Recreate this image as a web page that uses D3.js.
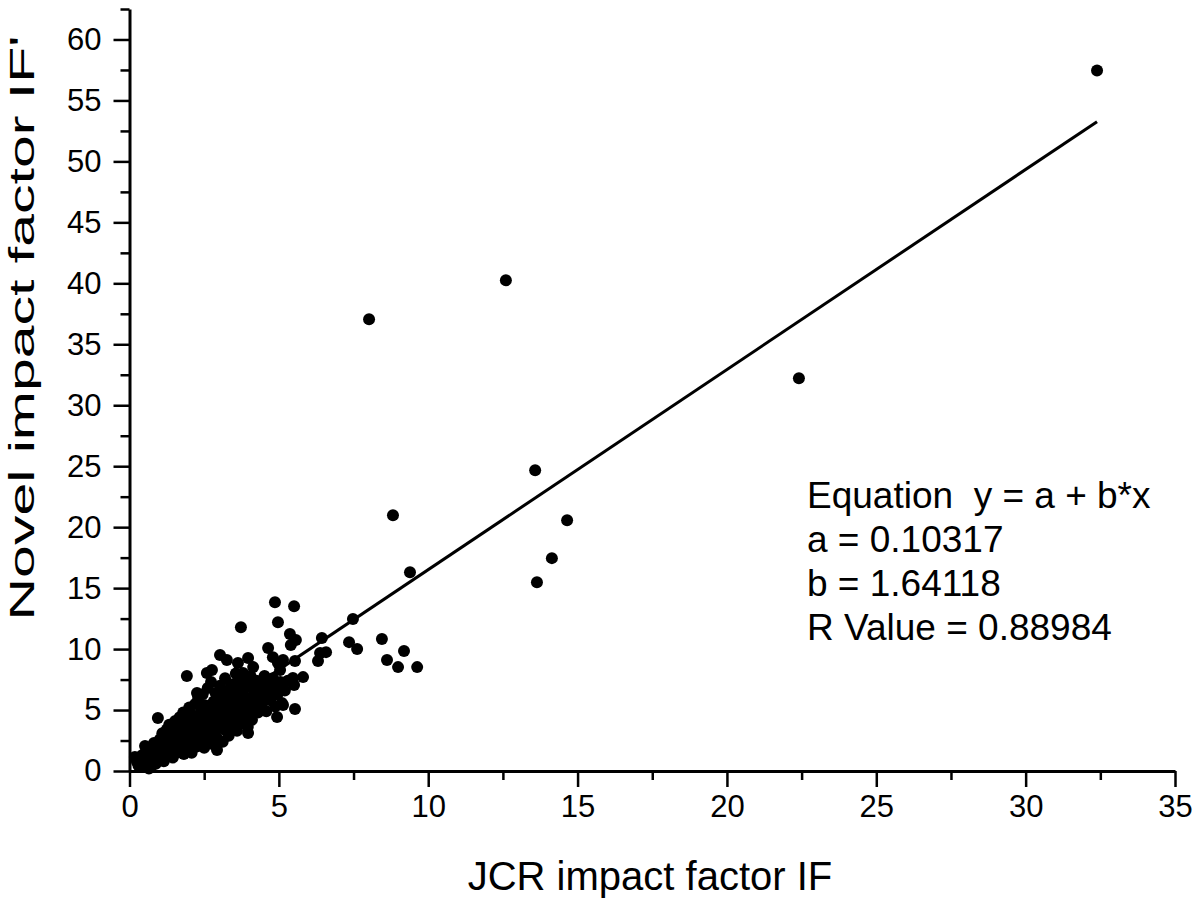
<!DOCTYPE html>
<html lang="en">
  <head>
    <meta charset='utf-8'>
    <script type="text/javascript" src="https://cdnjs.cloudflare.com/ajax/libs/d3/7.8.5/d3.min.js"></script>
    <title>JCR vs novel impact factor</title>
    <style>
      body{margin:0;background:white;}
      text{font-family:"Liberation Sans",Arial,sans-serif;fill:black;}
    </style>
  </head>
  <body>
    <div id="mainDiv"></div>
    <script type="text/javascript">
      //Data: JCR impact factor (x) and novel impact factor (y)
      var jcrIF=[32.39,12.60,8.02,22.41,13.58,14.65,8.82,14.14,13.64,9.39,7.48,4.87,5.51,4.97,3.73,5.37,5.57,5.40,6.44,7.35,
        7.62,8.45,9.19,8.62,8.99,9.63,6.38,6.58,6.31,5.54,5.14,4.80,4.64,5.47,5.81,5.51,4.94,4.80,5.14,5.54,
        4.94,3.03,3.26,3.63,3.97,4.14,3.80,4.97,5.04,4.44,4.70,5.10,3.97,3.97,2.76,2.59,2.26,1.92,0.95,2.93,
        3.60,3.53,4.10,3.97,4.37,3.63,0.52,0.18,2.29,
        0.25,0.30,0.35,0.40,0.42,0.48,0.50,0.55,0.58,0.62,0.65,0.68,0.70,0.72,0.75,0.80,0.82,0.85,0.88,0.92,
        0.95,0.98,1.02,1.05,1.08,1.10,1.12,1.15,1.18,1.22,1.25,1.28,1.30,1.33,1.36,1.40,1.42,1.45,1.48,1.50,
        1.53,1.56,1.58,1.62,1.65,1.68,1.70,1.73,1.76,1.80,1.82,1.85,1.88,1.90,1.93,1.96,2.00,2.02,2.05,2.08,
        2.10,2.13,2.16,2.20,2.22,2.25,2.28,2.30,2.33,2.36,2.40,2.42,2.45,2.48,2.50,2.53,2.56,2.60,2.62,2.65,
        2.68,2.70,2.73,2.76,2.80,2.82,2.85,2.88,2.90,2.93,2.96,3.00,3.03,3.06,3.10,3.12,3.15,3.18,3.20,3.23,
        3.26,3.30,3.32,3.36,3.40,3.43,3.46,3.50,3.53,3.56,3.60,3.63,3.66,3.70,3.73,3.76,3.80,3.85,3.88,3.92,
        3.96,4.00,4.05,4.10,4.15,4.20,4.25,4.30,4.38,4.45,4.52,4.58,4.65,4.72,4.80,4.88,4.95,5.05,5.20,5.30,
        1.20,1.35,1.55,1.75,1.95,2.15,2.35,2.55,2.75,2.95,3.15,3.35,3.55,3.75,3.95,4.15,4.35,2.45,2.70,3.05,
        3.45,3.85,4.25,2.05,1.65,1.45,2.85,3.25,4.05,4.50];
      var novelIF=[57.46,40.25,37.05,32.21,24.67,20.57,20.98,17.46,15.49,16.31,12.46,13.85,13.52,12.21,11.80,11.23,10.74,10.33,10.90,10.57,
        10.00,10.82,9.84,9.10,8.52,8.52,9.67,9.75,9.02,9.02,9.10,9.34,10.08,7.62,7.70,7.05,6.89,6.39,5.41,5.08,
        4.43,9.51,9.10,8.85,9.26,8.52,8.03,8.85,8.28,7.30,6.48,5.57,4.34,3.11,8.28,8.03,6.39,7.79,4.34,1.72,
        7.30,6.48,6.80,5.57,6.23,3.77,2.05,1.15,6.23,
        0.75,0.45,1.00,0.60,1.30,0.35,0.90,1.60,0.55,1.15,0.20,0.80,1.90,1.40,0.45,1.05,2.30,1.70,0.60,1.30,
        2.00,0.90,2.60,1.50,1.10,3.10,2.20,0.80,1.80,2.70,3.40,1.30,2.10,3.80,1.60,2.90,2.40,1.10,3.50,2.00,
        4.10,2.70,1.50,3.20,2.30,4.40,1.80,3.70,2.70,4.80,1.40,3.10,2.20,4.20,3.50,1.80,5.20,2.70,3.90,1.50,
        4.60,3.20,2.30,5.50,3.70,2.00,4.30,5.90,2.80,3.40,4.90,2.30,6.30,3.90,1.90,5.40,3.00,4.40,6.80,2.50,
        5.00,3.60,7.30,4.20,2.20,5.70,3.20,6.40,4.70,2.70,5.30,3.80,7.00,4.40,6.00,2.40,5.00,3.40,7.60,4.10,
        6.50,5.50,2.90,4.70,7.10,3.70,6.00,5.10,4.30,8.00,3.30,5.70,6.90,4.70,3.90,6.30,5.20,7.60,4.40,6.00,
        3.60,5.00,7.00,4.20,6.20,5.50,7.40,4.80,6.60,5.60,7.80,4.90,7.00,5.80,7.60,5.30,6.30,7.30,6.60,7.40,
        3.00,2.50,3.60,3.30,4.00,4.00,4.60,5.10,5.40,6.10,5.80,6.30,4.90,7.20,7.00,5.80,5.30,4.20,4.80,5.60,
        5.20,5.40,6.40,3.50,3.00,2.80,4.10,4.60,7.80,6.00];
      //Linear fit shown in the chart
      var fitA=0.10317;
      var fitB=1.64118;
      var fitText=["Equation  y = a + b*x","a = 0.10317","b = 1.64118","R Value = 0.88984"];
      var xTicks=[0,5,10,15,20,25,30,35];
      var yTicks=[0,5,10,15,20,25,30,35,40,45,50,55,60];

      var w=1200;
      var h=905;
      //Create SVG
      var svg=d3.select("#mainDiv")
        .append("svg")
        .attr("width",w)
        .attr("height",h);
      //Scales
      var x=d3.scaleLinear().domain([0,35]).range([129.5,1175]);
      var y=d3.scaleLinear().domain([0,62.5]).range([771,9]);

      //Minor ticks first, then the major axes on top
      var xMinor=svg.append("g")
        .attr("transform","translate(0,771)")
        .call(d3.axisBottom(x).tickValues(d3.range(2.5,35,5)).tickSize(9).tickFormat(""));
      var yMinor=svg.append("g")
        .attr("transform","translate(129.5,0)")
        .call(d3.axisLeft(y).tickValues(d3.range(2.5,63,5)).tickSize(9).tickFormat(""));
      xMinor.select(".domain").remove();
      yMinor.select(".domain").remove();
      var xAxis=svg.append("g")
        .attr("transform","translate(0,771)")
        .call(d3.axisBottom(x).tickValues(xTicks).tickSize(16).tickSizeOuter(0).tickPadding(8).tickFormat(d3.format("d")));
      var yAxis=svg.append("g")
        .attr("transform","translate(129.5,0)")
        .call(d3.axisLeft(y).tickValues(yTicks).tickSize(16).tickSizeOuter(0).tickPadding(12).tickFormat(d3.format("d")));
      svg.selectAll(".domain")
        .attr("stroke","black")
        .attr("stroke-width",3);
      svg.selectAll(".tick line")
        .attr("stroke","black")
        .attr("stroke-width",2.5);
      svg.selectAll(".tick text")
        .attr("font-family","Liberation Sans, Arial, sans-serif")
        .attr("font-size",31)
        .attr("fill","black");

      //Regression line
      var xMin=d3.min(jcrIF);
      var xMax=d3.max(jcrIF);
      svg.append("line")
        .attr("x1",x(xMin))
        .attr("y1",y(fitA+fitB*xMin))
        .attr("x2",x(xMax))
        .attr("y2",y(fitA+fitB*xMax))
        .attr("stroke","black")
        .attr("stroke-width",3);

      //Scatter points
      svg.append("g")
        .selectAll("circle")
        .data(jcrIF)
        .enter()
        .append("circle")
        .attr("cx",function(d){return x(d);})
        .attr("cy",function(d,i){return y(novelIF[i]);})
        .attr("r",6)
        .attr("fill","black");

      //Fit parameters
      svg.append("g")
        .selectAll("text")
        .data(fitText)
        .enter()
        .append("text")
        .attr("x",807)
        .attr("y",function(d,i){return 508+i*44;})
        .attr("font-size",37)
        .style("white-space","pre")
        .text(function(d){return d;});

      //Axis titles
      svg.append("text")
        .attr("x",650)
        .attr("y",890)
        .attr("text-anchor","middle")
        .attr("font-size",40)
        .text("JCR impact factor IF");
      svg.append("text")
        .attr("transform","translate(34,328) rotate(-90)")
        .attr("text-anchor","middle")
        .attr("font-size",35)
        .attr("textLength",585)
        .attr("lengthAdjust","spacingAndGlyphs")
        .text("Novel impact factor IF'");
    </script>
  </body>
</html>
